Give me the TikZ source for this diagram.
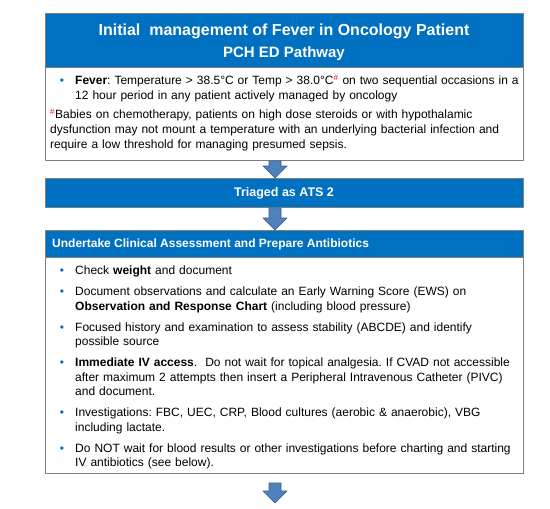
\documentclass[tikz,border=0pt]{standalone}
\usepackage{fontspec}
\setmainfont{Liberation Sans}
\usetikzlibrary{calc}
\definecolor{headblue}{RGB}{0,112,192}
\definecolor{arrowfill}{RGB}{79,129,189}
\definecolor{arrowline}{RGB}{56,93,138}
\definecolor{boxgray}{RGB}{127,127,127}
\newcommand\bul[1]{{\leftskip=25pt\noindent\llap{\textcolor{headblue}{\textbullet}\hspace{11pt}}#1\par}}
\newcommand\hsh{\textcolor{red}{\textsuperscript{\#}}}
\frenchspacing
\begin{document}
\begin{tikzpicture}[x=1pt,y=-1pt,line join=round,
    box/.style={draw=boxgray,line width=0.8pt,fill=white,anchor=north west,minimum width=478pt,inner sep=0pt},
    head/.style={box,fill=headblue},
    title/.style={text=white,font=\bfseries\fontsize{16}{18}\selectfont,inner sep=0pt,anchor=base},
    body/.style={anchor=base west,inner sep=0pt,text width=485pt,align=left,font=\fontsize{12}{14.5}\selectfont},
    flow/.style={draw=arrowline,fill=arrowfill,line width=0.6pt}]
    \useasboundingbox (0,0) rectangle (550,509);
    \coordinate (arrowx) at (275,0);
    % fever box
    \node[box,minimum height=147pt] (fever) at (45,13) {};
    \node[head,minimum height=54pt] (feverhead) at (45,13) {};
    \node[title] (title) at (284,35) {Initial\ \ management of Fever in Oncology Patient};
    \node[title,font=\bfseries\fontsize{15}{17}\selectfont] (subtitle) at (284,57.5) {PCH ED Pathway};
    \node[body,font=\fontsize{12}{15}\selectfont] (fevertxt) at (50,84.5) {\setlength\parskip{4pt}%
        \bul{\textbf{Fever}: Temperature > 38.5°C or Temp > 38.0°C\hsh{} on two sequential occasions in a\\
        12 hour period in any patient actively managed by oncology}
        \hsh Babies on chemotherapy, patients on high dose steroids or with hypothalamic\\
        dysfunction may not mount a temperature with an underlying bacterial infection and\\
        require a low threshold for managing presumed sepsis.\par};
    % triage box
    \node[head,minimum height=29pt] (triage) at (45,178) {};
    \node[title,font=\bfseries\fontsize{12.5}{14}\selectfont] (triagetxt) at (284,196.5) {Triaged as ATS 2};
    % assessment box
    \node[box,minimum height=243pt] (assess) at (45,230) {};
    \node[head,minimum height=27pt] (assesshead) at (45,230) {};
    \node[title,font=\bfseries\fontsize{12}{14}\selectfont,anchor=base west] (assesstitle) at (52,247.5) {Undertake Clinical Assessment and Prepare Antibiotics};
    \node[body] (assesstxt) at (50,274.5) {\setlength\parskip{6.5pt}%
        \bul{Check \textbf{weight} and document}
        \bul{Document observations and calculate an Early Warning Score (EWS) on\\
        \textbf{Observation and Response Chart} (including blood pressure)}
        \bul{Focused history and examination to assess stability (ABCDE) and identify\\
        possible source}
        \bul{\textbf{Immediate IV access}.\ \ Do not wait for topical analgesia. If CVAD not accessible\\
        after maximum 2 attempts then insert a Peripheral Intravenous Catheter (PIVC)\\
        and document.}
        \bul{Investigations: FBC, UEC, CRP, Blood cultures (aerobic \& anaerobic), VBG\\
        including lactate.}
        \bul{Do NOT wait for blood results or other investigations before charting and starting\\
        IV antibiotics (see below).}};
    \coordinate (next) at (275,503);
    % block arrows
    \foreach \a/\b/\s in {fever/triage/0,triage/assess/0,assess/next/9}
        \draw[flow] let \p1=($(\a.south -| arrowx)+(0,\s)$), \p2=(\b.north -| arrowx) in
        (\x1-6pt,\y1) -- (\x1-6pt,\y2+12pt) -- (\x1-12pt,\y2+12pt) -- (\x1,\y2)
        -- (\x1+12pt,\y2+12pt) -- (\x1+6pt,\y2+12pt) -- (\x1+6pt,\y1) -- cycle;
\end{tikzpicture}
\end{document}
